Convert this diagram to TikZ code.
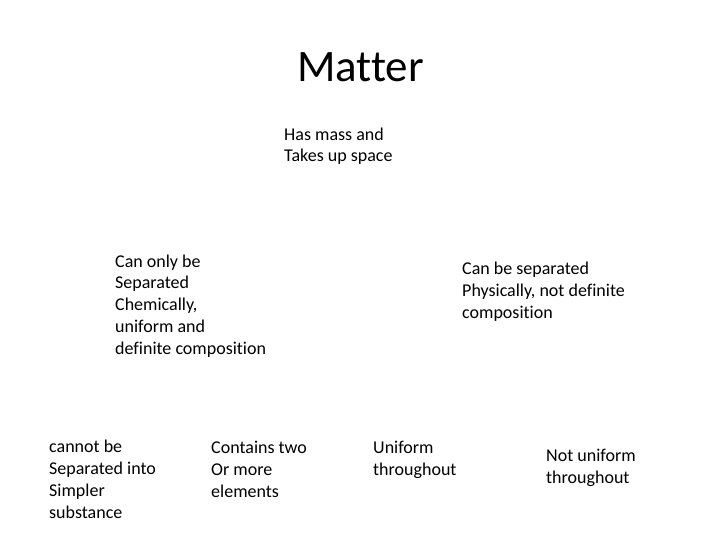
\documentclass[tikz,border=0pt]{standalone}
\usepackage{fontspec}
\setmainfont{Carlito}[Ligatures=NoCommon]
\tikzset{
  big/.style={font=\fontsize{45}{54}\selectfont, inner sep=0pt},
  note/.style={font=\fontsize{18}{21.7}\selectfont, align=left, inner sep=0pt, anchor=base west}
}

\begin{document}
\begin{tikzpicture}[x=1pt, y=-1pt]
    \useasboundingbox (0,0) rectangle (720,540);
    % base anchor sits on the last line of each block
    \node[big, anchor=base] (matter) at (360.5,82) {Matter};
    \node[note] (props) at (284,162) {Has mass and\\Takes up space};
    \node[note] (pure) at (115,354) {Can only be\\Separated\\Chemically,\\uniform and\\definite composition};
    \node[note] (mixture) at (462,318) {Can be separated\\Physically, not definite\\composition};
    \node[note] (element) at (49,518) {cannot be\\Separated into\\Simpler\\substance};
    \node[note] (compound) at (211,497) {Contains two\\Or more\\elements};
    \node[note] (homog) at (373,475) {Uniform\\throughout};
    \node[note] (hetero) at (546,483) {Not uniform\\throughout};
  \end{tikzpicture}
\end{document}
